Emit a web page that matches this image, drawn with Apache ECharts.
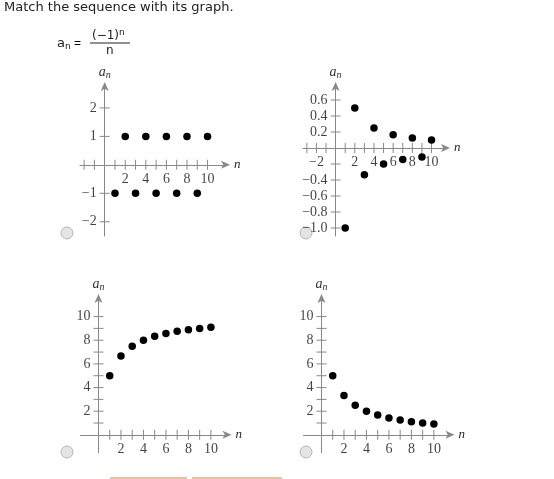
<!DOCTYPE html>
<html><head><meta charset="utf-8">
<script src="https://cdn.jsdelivr.net/npm/echarts@6/dist/echarts.min.js"></script>
<style>html,body{margin:0;padding:0;background:#fff}#c{width:554px;height:479px}</style>
</head><body><div id="c"></div>
<script>
// ---- data ----
const nValues = [1,2,3,4,5,6,7,8,9,10];
const seriesA = [-1,1,-1,1,-1,1,-1,1,-1,1];
const seriesB = [-1,0.5,-0.333,0.25,-0.2,0.167,-0.143,0.125,-0.111,0.1];
const seriesC = [5,6.67,7.5,8,8.33,8.57,8.75,8.89,9,9.09];
const seriesD = [5,3.33,2.5,2,1.67,1.43,1.25,1.11,1,0.91];
const xTicksA = [-2,-1,1,2,3,4,5,6,7,8,9,10];
const xTicksB = [-3,-2,-1,1,2,3,4,5,6,7,8,9,10];
const xTicksC = [1,2,3,4,5,6,7,8,9,10];
const xLabelsA = [2,4,6,8,10];
const xLabelsB = [-2,2,4,6,8,10];
const yTicksA = [2,1,-1,-2];
const yTicksB = [0.6,0.4,0.2,-0.2,-0.4,-0.6,-0.8,-1.0];
const yLabelsB = [0.6,0.4,0.2,-0.4,-0.6,-0.8,-1.0];
const yTicksC = [1,2,3,4,5,6,7,8,9,10];
const yLabelsC = [2,4,6,8,10];

const plots = [
 {data:seriesA, xt:xTicksA, xl:xLabelsA, yt:yTicksA, yl:yTicksA, x:[-2.4,11.6], y:[-2.5,2.7], g:{left:80,top:88,width:144,height:148}, yfmt:v=>String(Math.abs(v))},
 {data:seriesB, xt:xTicksB, xl:xLabelsB, yt:yTicksB, yl:yLabelsB, x:[-3.4,11.3], y:[-1.1,0.75], g:{left:303,top:88,width:141,height:148}, yfmt:v=>Math.abs(v).toFixed(1)},
 {data:seriesC, xt:xTicksC, xl:yLabelsC, yt:yTicksC, yl:yLabelsC, x:[-1.6,11.3], y:[-1.5,11.4], g:{left:80.5,top:300,width:145,height:152.6}, yfmt:v=>String(v)},
 {data:seriesD, xt:xTicksC, xl:yLabelsC, yt:yTicksC, yl:yLabelsC, x:[-1.6,11.3], y:[-1.5,11.4], g:{left:303.5,top:300,width:145,height:152.6}, yfmt:v=>String(v)}
];
const serif = 'Liberation Serif';
const minus = v => (v<0?'\u2212':'');
const grid=[],xAxis=[],yAxis=[],series=[];
plots.forEach((p,i)=>{
  grid.push(Object.assign({containLabel:false},p.g));
  const axLine = {onZero:true, lineStyle:{color:'#888',width:1}, symbol:['none','arrow'], symbolSize:[6,9], symbolOffset:[0,6]};
  xAxis.push({gridIndex:i,type:'value',min:p.x[0],max:p.x[1],splitLine:{show:false},axisTick:{show:false},axisLabel:{show:false},
    axisLine:axLine,name:'n',nameGap:10,nameTextStyle:{fontFamily:serif,fontStyle:'italic',fontSize:13,color:'#222'}});
  yAxis.push({gridIndex:i,type:'value',min:p.y[0],max:p.y[1],splitLine:{show:false},axisTick:{show:false},axisLabel:{show:false},
    axisLine:axLine,name:'{a|a}{n|n}',nameGap:8,nameTextStyle:{rich:{a:{fontFamily:serif,fontStyle:'italic',fontSize:14,color:'#333'},n:{fontFamily:serif,fontStyle:'italic',fontSize:10,color:'#333',padding:[6,0,0,0]}}}});
  series.push({type:'scatter',xAxisIndex:i,yAxisIndex:i,symbol:'rect',symbolSize:[1,10],silent:true,itemStyle:{color:'#888',opacity:1},data:p.xt.map(v=>[v,0]),z:1});
  series.push({type:'scatter',xAxisIndex:i,yAxisIndex:i,symbol:'rect',symbolSize:[10,1],silent:true,itemStyle:{color:'#888',opacity:1},data:p.yt.map(v=>[0,v]),z:1});
  series.push({type:'scatter',xAxisIndex:i,yAxisIndex:i,symbolSize:0,silent:true,data:p.xl.map(v=>[v,0]),
    label:{show:true,position:'bottom',distance:7,fontFamily:serif,fontSize:14,color:'#111',formatter:d=>minus(d.value[0])+Math.abs(d.value[0])}});
  series.push({type:'scatter',xAxisIndex:i,yAxisIndex:i,symbolSize:0,silent:true,data:p.yl.map(v=>[0,v]),
    label:{show:true,position:'left',distance:8,fontFamily:serif,fontSize:14,color:'#111',formatter:d=>minus(d.value[1])+p.yfmt(d.value[1])}});
  series.push({type:'scatter',xAxisIndex:i,yAxisIndex:i,symbolSize:7.5,itemStyle:{color:'#000',opacity:1},data:nValues.map((n,k)=>[n,p.data[k]]),z:3});
});
const radio = (x,y)=>({type:'circle',shape:{cx:x,cy:y,r:6},style:{fill:'#e4e4e4',stroke:'#b5b5b5',lineWidth:1}});
const chart = echarts.init(document.getElementById('c'),null,{renderer:'canvas'});
chart.setOption({animation:false,grid,xAxis,yAxis,series,
 graphic:[
  {type:'text',left:4,top:1,style:{text:'Match the sequence with its graph.',font:'13px "DejaVu Sans"',fill:'#222'}},
  {type:'text',left:57,top:37,style:{text:'{a|a}{n|n} =',rich:{a:{font:'13px "DejaVu Sans"',fill:'#222'},n:{font:'9px "DejaVu Sans"',fill:'#222',padding:[6,0,0,0]}}}},
  {type:'text',left:92,top:28,style:{text:'(\u22121){s|n}',font:'12px "DejaVu Sans"',fill:'#222',rich:{s:{font:'9px "DejaVu Sans"',fill:'#222',padding:[0,0,6,0]}}}},
  {type:'line',shape:{x1:90,y1:43,x2:130,y2:43},style:{stroke:'#222',lineWidth:1}},
  {type:'text',left:106,top:45,style:{text:'n',font:'12px "DejaVu Sans"',fill:'#222'}},
  radio(67,233),radio(306,233),radio(67,452),radio(306,452),
  {type:'line',shape:{x1:110,y1:478,x2:187,y2:478},style:{stroke:'#c8873a',lineWidth:1}},
  {type:'line',shape:{x1:192,y1:478,x2:282,y2:478},style:{stroke:'#c8873a',lineWidth:1}}
 ]});
</script></body></html>
